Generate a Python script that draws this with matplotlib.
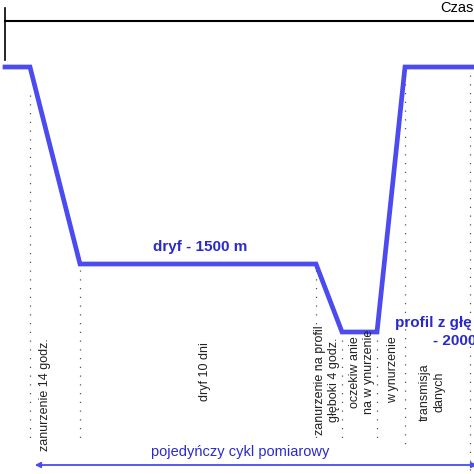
import matplotlib.pyplot as plt

# profil zanurzenia (piksele obrazu: x - czas, y - głębokość w dół)
prof_x = [5, 30, 80, 316, 342, 377, 405, 480]
prof_y = [67, 67, 264, 264, 332, 332, 67, 67]
# linie kropkowane: x, y_od, y_do
kropki = [(30, 95, 445), (80, 270, 445), (316, 270, 445), (342, 340, 445),
          (377, 340, 445), (405, 75, 445), (470, 75, 470)]
etykiety = [(45, 395, 'zanurzenie 14 godz.'),
            (205, 372, 'dryf 10 dni'),
            (327, 380, 'zanurzenie na profil\ngłęboki 4 godz.'),
            (362, 372, 'oczekiw anie\nna w ynurzenie'),
            (393, 370, 'w ynurzenie'),
            (432, 392, 'transmisja\ndanych')]

blue = '#4b4bef'
fig = plt.figure(figsize=(4.74, 4.74), dpi=100)
ax = fig.add_axes([0, 0, 1, 1])
ax.set_xlim(0, 474)
ax.set_ylim(474, 0)
ax.axis('off')

ax.plot([5, 480], [21, 21], color='black', lw=1.5)
ax.plot([5, 5], [8, 60], color='black', lw=1.2)
ax.text(440, 8, 'Czas', fontsize=10.5, va='center', family='Liberation Sans')

ax.plot(prof_x, prof_y, color=blue, lw=3.4, solid_joinstyle='miter')

for x, y0, y1 in kropki:
    ax.plot([x, x], [y0, y1], color='#555555', lw=0.9, ls=(0, (1, 6)))

for x, y, t in etykiety:
    ax.text(x, y, t, rotation=90, ha='center', va='center', fontsize=9,
            family='Liberation Sans', color='#222222', linespacing=1.25)

ax.text(200, 247, 'dryf - 1500 m', ha='center', va='center', fontsize=11,
        fontweight='bold', color='#2a2acc', family='Liberation Sans')
ax.text(395, 323, 'profil z głę', ha='left', va='center', fontsize=11,
        fontweight='bold', color='#2a2acc', family='Liberation Sans')
ax.text(433, 341, '- 2000', ha='left', va='center', fontsize=11,
        fontweight='bold', color='#2a2acc', family='Liberation Sans')

ax.annotate('', xy=(32, 465), xytext=(480, 465),
            arrowprops=dict(arrowstyle='<|-|>', color=blue, lw=1.3, mutation_scale=8))
ax.text(240, 452, 'pojedyńczy cykl pomiarowy', ha='center', va='center',
        fontsize=10.5, color='#2a2acc', family='Liberation Sans')

fig.savefig('out.png', dpi=100)
